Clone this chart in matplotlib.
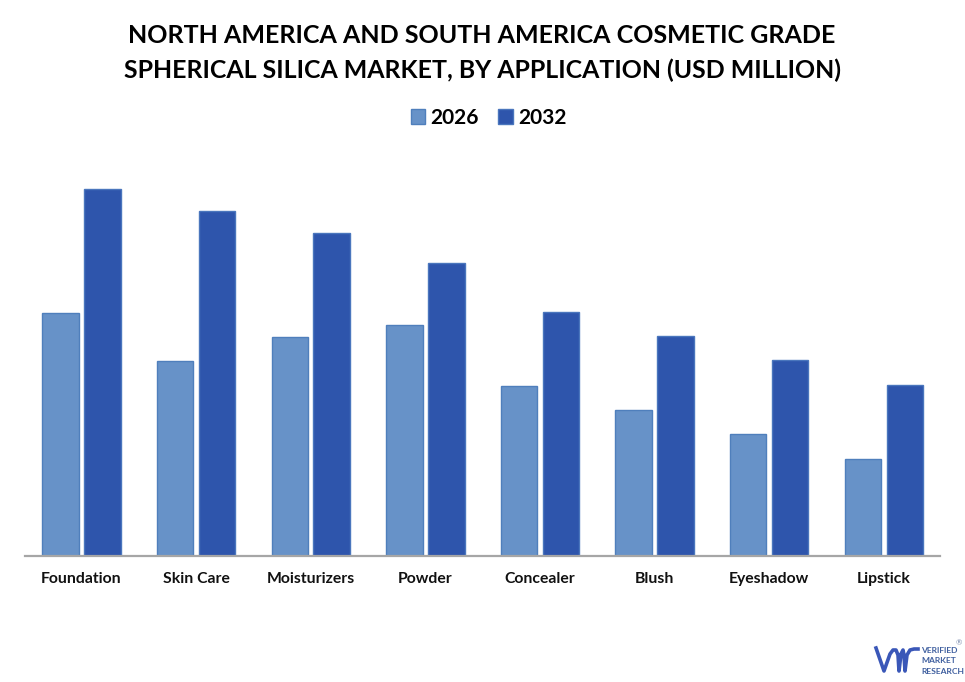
import matplotlib
matplotlib.use('Agg')
import matplotlib.pyplot as plt
import numpy as np
from matplotlib.lines import Line2D
from matplotlib.patches import Patch

plt.rcParams['font.family'] = ['Lato', 'DejaVu Sans']

categories = ['Foundation', 'Skin Care', 'Moisturizers', 'Powder',
              'Concealer', 'Blush', 'Eyeshadow', 'Lipstick']
values_2026 = [242, 194, 218, 230, 170, 146, 122, 97]
values_2032 = [366, 344, 322, 292, 243, 219, 195, 171]

W, H = 965, 682
fig = plt.figure(figsize=(W / 100, H / 100), dpi=100)

# axes box in pixels: left 25, right 940, baseline 555.5
ax = fig.add_axes([25 / W, 1 - 555.5 / H, 915 / W, 395.5 / H])
x = np.arange(len(categories))
width = 0.318
off = 0.183
ax.bar(x - off, values_2026, width, color='#6792c8', edgecolor='#4f7fbc', linewidth=1, label='2026')
ax.bar(x + off, values_2032, width, color='#2e55ac', edgecolor='#4a76bd', linewidth=1, label='2032')

ax.set_xlim(-0.4926, 7.49)
ax.set_ylim(0, 395.5)
ax.set_yticks([])
ax.set_xticks(x)
ax.set_xticklabels(categories, fontsize=11.3, fontweight='bold', color='#111111')
ax.tick_params(axis='x', length=0, pad=12)
for s in ['top', 'left', 'right']:
    ax.spines[s].set_visible(False)
ax.spines['bottom'].set_color('#a6a6a6')
ax.spines['bottom'].set_linewidth(1.6)

fig.text(482 / W, 1 - 35.5 / H, 'NORTH AMERICA AND SOUTH AMERICA COSMETIC GRADE',
         ha='center', va='center', fontsize=18, fontweight='bold', color='black')
fig.text(482 / W, 1 - 70.5 / H, 'SPHERICAL SILICA MARKET, BY APPLICATION (USD MILLION)',
         ha='center', va='center', fontsize=17.9, fontweight='bold', color='black')

handles = [Patch(facecolor='#6792c8', edgecolor='#4f7fbc'),
           Patch(facecolor='#2e55ac', edgecolor='#4a76bd')]
fig.legend(handles, ['2026', '2032'], loc='center', bbox_to_anchor=(488.5 / W, 1 - 117.5 / H), ncol=2,
           frameon=False, prop={'size': 15, 'weight': 'bold'},
           handlelength=0.68, handleheight=0.72, handletextpad=0.25, columnspacing=0.95)

# logo
logo_x = [876, 884, 890, 893, 896, 898, 899, 901, 903, 904, 905, 907, 910, 914, 918]
logo_y = [648, 671, 654, 650, 650, 655, 671, 654, 650, 655, 671, 655, 650, 649, 649]
fig.add_artist(Line2D([v / W for v in logo_x], [1 - v / H for v in logo_y],
                      color='#3a57b8', linewidth=2.6, solid_joinstyle='round'))
for txt, ypix in [('VERIFIED', 650.5), ('MARKET', 660.5), ('RESEARCH', 671)]:
    fig.text(921 / W, 1 - ypix / H, txt, ha='left', va='center', fontsize=6.1,
             fontweight='bold', color='#3f5f9f')
fig.text(959 / W, 1 - 643 / H, '®', ha='center', va='center', fontsize=5.5, color='#7f8fb0')

fig.savefig('out.png', dpi=100)
